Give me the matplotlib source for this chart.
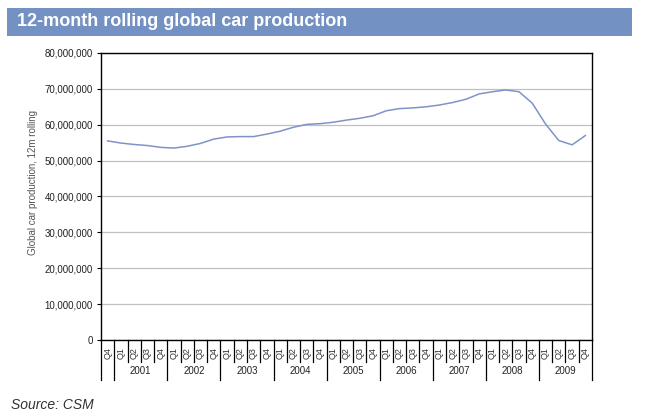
import matplotlib
matplotlib.use('Agg')
import matplotlib.pyplot as plt
import matplotlib.transforms as mtransforms
from matplotlib.patches import Rectangle
from matplotlib.ticker import FuncFormatter

plt.rcParams['font.family'] = ['Liberation Sans', 'DejaVu Sans']

# quarters: Q4 2000, then Q1..Q4 for 2001-2009
quarters = ['Q4'] + ['Q1', 'Q2', 'Q3', 'Q4'] * 9
years = ['2001', '2002', '2003', '2004', '2005', '2006', '2007', '2008', '2009']
# 12-month rolling production, millions of cars
production_m = [55.5, 54.9, 54.5, 54.2, 53.7, 53.5, 54.0, 54.8, 56.0, 56.6,
                56.7, 56.7, 57.4, 58.2, 59.3, 60.1, 60.3, 60.7, 61.3, 61.8,
                62.5, 63.9, 64.5, 64.7, 65.0, 65.5, 66.2, 67.1, 68.6, 69.2,
                69.7, 69.2, 66.0, 60.2, 55.6, 54.4, 57.0]

W, H = 647, 419
fig = plt.figure(figsize=(W / 100, H / 100), dpi=100)

# title banner
fig.add_artist(Rectangle((7 / W, 1 - 36 / H), 625 / W, 28 / H,
                         transform=fig.transFigure, color='#7391c2', lw=0))
fig.text(17 / W, 1 - 22 / H, '12-month rolling global car production',
         color='white', fontsize=13, fontweight='bold', va='center', ha='left')

ax = fig.add_axes([101 / W, (H - 340) / H, 491 / W, 287 / H])
x = list(range(len(quarters)))
y = [v * 1e6 for v in production_m]
ax.plot(x, y, color='#7f93c8', lw=1.1)

ax.set_xlim(-0.5, len(quarters) - 0.5)
ax.set_ylim(0, 80e6)
ax.set_yticks([i * 10e6 for i in range(9)])
ax.yaxis.set_major_formatter(FuncFormatter(lambda v, p: f'{int(v):,}'))
ax.tick_params(axis='y', labelsize=7, length=3, width=0.8, direction='out', pad=3,
               labelcolor='#222222')
ax.set_xticks([])
ax.grid(axis='y', color='#c0c0c0', lw=0.9)
ax.set_axisbelow(True)
for s in ax.spines.values():
    s.set_color('black')
    s.set_linewidth(1)

# y label, anchored at its bottom end like the original
ax.text(-68 / 491, (340 - 255) / 287, 'Global car production, 12m rolling',
        rotation=90, fontsize=7, color='#555555', ha='center', va='bottom',
        transform=ax.transAxes)

# category axis with quarter / year bands
trans = mtransforms.blended_transform_factory(ax.transData, ax.transAxes)
q_bottom = -22 / 287
y_bottom = -40 / 287
n = len(quarters)
for i in range(n + 1):
    xb = i - 0.5
    is_year = (i == 0) or (i == n) or quarters[i - 1] == 'Q4'
    ax.plot([xb, xb], [0, y_bottom if is_year else q_bottom], color='black',
            lw=0.9, transform=trans, clip_on=False)
for i, q in enumerate(quarters):
    ax.text(i, -13.5 / 287, q, rotation=90, fontsize=6.5, ha='center', va='center',
            color='#333333', transform=trans)
for k, yr in enumerate(years):
    ax.text(1 + 4 * k + 1.5, -31 / 287, yr, fontsize=7, ha='center', va='center',
            color='#222222', transform=trans)

fig.text(11 / W, 1 - 405 / H, 'Source: CSM', fontsize=10, style='italic',
         color='#333333', va='center', ha='left')

fig.savefig('out.png', dpi=100)
